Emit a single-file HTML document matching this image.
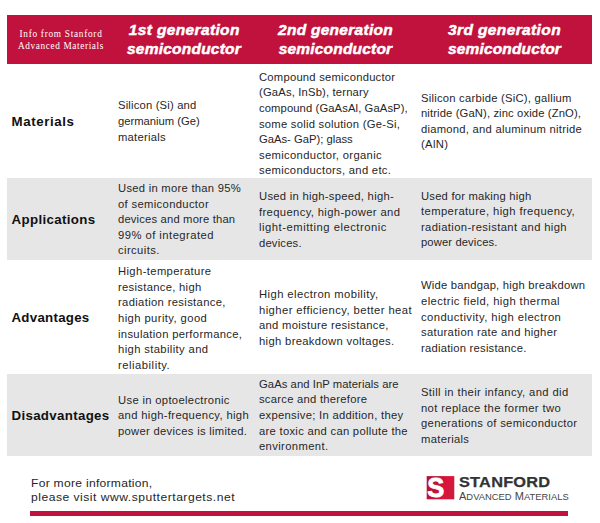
<!DOCTYPE html>
<html><head><meta charset='utf-8'><title>Semiconductor generations</title><style>
html,body{margin:0;padding:0;background:#fff}
body{width:600px;height:523px;position:relative;overflow:hidden;font-family:"Liberation Sans",sans-serif}
.t{position:absolute;white-space:nowrap;line-height:1;margin:0;padding:0}
.b{font-size:10.5px;color:#262626;letter-spacing:.33px;transform-origin:0 50%;transform:scaleX(1.07)}
.l{font-size:13.3px;font-weight:bold;color:#111}
.h{font-size:15.5px;font-weight:bold;font-style:italic;color:#fff;-webkit-text-stroke:0.5px #fff}
.i{font-family:"Liberation Serif",serif;font-size:9.3px;color:#fff}
.f{font-size:11px;color:#262626;transform-origin:0 50%;transform:scaleX(1.1)}
.r{position:absolute}
</style></head><body>
<div class='r' style='left:7px;top:15px;width:584.6px;height:49.3px;background:#c1113d'></div>
<div class='r' style='left:7px;top:178.2px;width:584.7px;height:81.9px;background:#e6e6e6'></div>
<div class='r' style='left:7px;top:374.2px;width:584.7px;height:81.6px;background:#e6e6e6'></div>
<div class='r' style='left:30px;top:511px;width:537.5px;height:4.5px;background:#c1113d'></div>
<span class='t b' style='left:118.30px;top:100px;letter-spacing:0.171px'>Silicon (Si) and</span>
<span class='t b' style='left:118.30px;top:116px;letter-spacing:-0.004px'>germanium (Ge)</span>
<span class='t b' style='left:118.30px;top:132px;letter-spacing:0.224px'>materials</span>
<span class='t b' style='left:118.30px;top:183px;letter-spacing:0.249px'>Used in more than 95%</span>
<span class='t b' style='left:118.30px;top:199px;letter-spacing:0.317px'>of semiconductor</span>
<span class='t b' style='left:118.30px;top:214px;letter-spacing:0.159px'>devices and more than</span>
<span class='t b' style='left:118.30px;top:230px;letter-spacing:0.436px'>99% of integrated</span>
<span class='t b' style='left:118.30px;top:245px;letter-spacing:0.381px'>circuits.</span>
<span class='t b' style='left:118.30px;top:266px;letter-spacing:0.355px'>High-temperature</span>
<span class='t b' style='left:118.30px;top:282px;letter-spacing:0.281px'>resistance, high</span>
<span class='t b' style='left:118.30px;top:297px;letter-spacing:0.321px'>radiation resistance,</span>
<span class='t b' style='left:118.30px;top:313px;letter-spacing:0.385px'>high purity, good</span>
<span class='t b' style='left:118.30px;top:329px;letter-spacing:0.303px'>insulation performance,</span>
<span class='t b' style='left:118.30px;top:344px;letter-spacing:0.353px'>high stability and</span>
<span class='t b' style='left:118.30px;top:360px;letter-spacing:0.487px'>reliability.</span>
<span class='t b' style='left:118.30px;top:395px;letter-spacing:0.304px'>Use in optoelectronic</span>
<span class='t b' style='left:118.30px;top:410px;letter-spacing:0.317px'>and high-frequency, high</span>
<span class='t b' style='left:118.30px;top:426px;letter-spacing:0.280px'>power devices is limited.</span>
<span class='t b' style='left:258.50px;top:72px;letter-spacing:0.218px'>Compound semiconductor</span>
<span class='t b' style='left:258.50px;top:87px;letter-spacing:0.158px'>(GaAs, InSb), ternary</span>
<span class='t b' style='left:258.50px;top:103px;letter-spacing:0.100px'>compound (GaAsAl, GaAsP),</span>
<span class='t b' style='left:258.50px;top:119px;letter-spacing:0.234px'>some solid solution (Ge-Si,</span>
<span class='t b' style='left:258.50px;top:134px;letter-spacing:0.002px'>GaAs- GaP); glass</span>
<span class='t b' style='left:258.50px;top:150px;letter-spacing:0.317px'>semiconductor, organic</span>
<span class='t b' style='left:258.50px;top:165px;letter-spacing:0.284px'>semiconductors, and etc.</span>
<span class='t b' style='left:258.50px;top:191px;letter-spacing:0.260px'>Used in high-speed, high-</span>
<span class='t b' style='left:258.50px;top:207px;letter-spacing:0.340px'>frequency, high-power and</span>
<span class='t b' style='left:258.50px;top:222px;letter-spacing:0.489px'>light-emitting electronic</span>
<span class='t b' style='left:258.50px;top:238px;letter-spacing:0.172px'>devices.</span>
<span class='t b' style='left:258.50px;top:289px;letter-spacing:0.399px'>High electron mobility,</span>
<span class='t b' style='left:258.50px;top:305px;letter-spacing:0.401px'>higher efficiency, better heat</span>
<span class='t b' style='left:258.50px;top:320px;letter-spacing:0.284px'>and moisture resistance,</span>
<span class='t b' style='left:258.50px;top:336px;letter-spacing:0.314px'>high breakdown voltages.</span>
<span class='t b' style='left:258.50px;top:379px;letter-spacing:0.068px'>GaAs and InP materials are</span>
<span class='t b' style='left:258.50px;top:394px;letter-spacing:0.240px'>scarce and therefore</span>
<span class='t b' style='left:258.50px;top:410px;letter-spacing:0.275px'>expensive; In addition, they</span>
<span class='t b' style='left:258.50px;top:426px;letter-spacing:0.269px'>are toxic and can pollute the</span>
<span class='t b' style='left:258.50px;top:441px;letter-spacing:0.346px'>environment.</span>
<span class='t b' style='left:420.60px;top:93px;letter-spacing:0.221px'>Silicon carbide (SiC), gallium</span>
<span class='t b' style='left:420.60px;top:108px;letter-spacing:0.114px'>nitride (GaN), zinc oxide (ZnO),</span>
<span class='t b' style='left:420.60px;top:124px;letter-spacing:0.234px'>diamond, and aluminum nitride</span>
<span class='t b' style='left:420.60px;top:139px;letter-spacing:0.300px'>(AlN)</span>
<span class='t b' style='left:420.60px;top:191px;letter-spacing:0.198px'>Used for making high</span>
<span class='t b' style='left:420.60px;top:206px;letter-spacing:0.377px'>temperature, high frequency,</span>
<span class='t b' style='left:420.60px;top:222px;letter-spacing:0.349px'>radiation-resistant and high</span>
<span class='t b' style='left:420.60px;top:237px;letter-spacing:0.103px'>power devices.</span>
<span class='t b' style='left:420.60px;top:280px;letter-spacing:0.206px'>Wide bandgap, high breakdown</span>
<span class='t b' style='left:420.60px;top:296px;letter-spacing:0.387px'>electric field, high thermal</span>
<span class='t b' style='left:420.60px;top:312px;letter-spacing:0.410px'>conductivity, high electron</span>
<span class='t b' style='left:420.60px;top:327px;letter-spacing:0.297px'>saturation rate and higher</span>
<span class='t b' style='left:420.60px;top:343px;letter-spacing:0.220px'>radiation resistance.</span>
<span class='t b' style='left:420.60px;top:387px;letter-spacing:0.349px'>Still in their infancy, and did</span>
<span class='t b' style='left:420.60px;top:403px;letter-spacing:0.341px'>not replace the former two</span>
<span class='t b' style='left:420.60px;top:418px;letter-spacing:0.301px'>generations of semiconductor</span>
<span class='t b' style='left:420.60px;top:434px;letter-spacing:0.281px'>materials</span>
<span class='t l' style='left:11.50px;top:115px;letter-spacing:0.594px'>Materials</span>
<span class='t l' style='left:11.50px;top:213px;letter-spacing:0.350px'>Applications</span>
<span class='t l' style='left:11.50px;top:311px;letter-spacing:0.263px'>Advantages</span>
<span class='t l' style='left:11.50px;top:409px;letter-spacing:0.319px'>Disadvantages</span>
<span class='t h' style='left:128.75px;top:22px;letter-spacing:0.360px'>1st generation</span>
<span class='t h' style='left:127.00px;top:41px;letter-spacing:0.222px'>semiconductor</span>
<span class='t h' style='left:278.00px;top:22px;letter-spacing:0.278px'>2nd generation</span>
<span class='t h' style='left:278.75px;top:41px;letter-spacing:0.184px'>semiconductor</span>
<span class='t h' style='left:448.00px;top:22px;letter-spacing:0.381px'>3rd generation</span>
<span class='t h' style='left:448.00px;top:41px;letter-spacing:0.145px'>semiconductor</span>
<span class='t i' style='left:19.50px;top:30px;letter-spacing:0.709px'>Info from Stanford</span>
<span class='t i' style='left:18.00px;top:42px;letter-spacing:0.604px'>Advanced Materials</span>
<span class='t f' style='left:30.75px;top:478px;letter-spacing:0.252px'>For more information,</span>
<span class='t f' style='left:30.75px;top:492px;letter-spacing:0.460px'>please visit www.sputtertargets.net</span>
<svg class='r' style='left:420px;top:468px' width='50' height='40' viewBox='0 0 50 40'>
<defs><linearGradient id='g' x1='0' y1='0' x2='1' y2='0.25'><stop offset='0' stop-color='#b5112f'/><stop offset='0.5' stop-color='#c8123a'/><stop offset='0.75' stop-color='#de123c'/><stop offset='1' stop-color='#cf1a3c'/></linearGradient></defs>
<rect x='6.7' y='8.1' width='27.6' height='23.2' fill='url(#g)'/>
<text x='7.2' y='28.9' font-family='Liberation Sans, sans-serif' font-weight='bold' font-size='27' fill='#fff' stroke='#fff' stroke-width='0.9' textLength='17' lengthAdjust='spacingAndGlyphs'>S</text>
</svg>
<span class='t' style='left:459px;top:475px;font-size:14.4px;font-weight:bold;color:#333;letter-spacing:0.2px;-webkit-text-stroke:0.25px #333;transform-origin:0 50%;transform:scaleX(1.135)'>STANFORD</span>
<span class='t' style='left:458.6px;top:492px;font-size:10px;color:#444;letter-spacing:0.03px;transform-origin:0 50%;transform:scaleX(1.1)'>A<span style='font-size:8.5px'>DVANCED</span> M<span style='font-size:8.5px'>ATERIALS</span></span>
</body></html>
